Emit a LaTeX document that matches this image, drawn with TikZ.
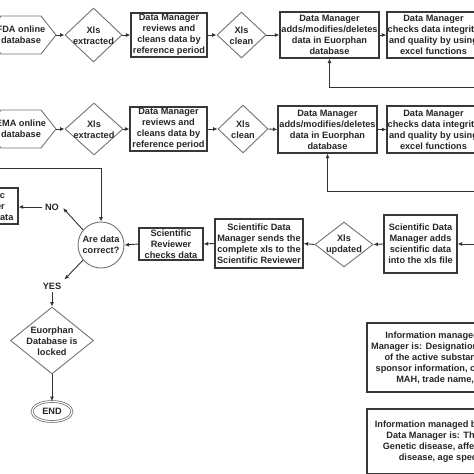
\documentclass[tikz,border=0pt]{standalone}
\usepackage{fontspec}
\setmainfont{Liberation Sans}
\usetikzlibrary{shapes.geometric,arrows.meta,calc}
\begin{document}
\begin{tikzpicture}[x=1pt,y=-1pt,
  txt/.style={font=\bfseries\fontsize{9.2}{11}\selectfont, text=black!85, align=center, inner sep=0pt},
  proc/.style={txt, draw=black!78, line width=1.2pt},
  dia/.style={diamond, draw=black!55, line width=0.9pt, inner sep=0pt},
  hexline/.style={draw=black!55, line width=0.9pt},
  arr/.style={draw=black!80, line width=0.9pt, -{Latex[length=4.5pt,width=4pt]}},
  lbl/.style={txt, inner sep=3pt}]
\useasboundingbox (0,0) rectangle (474,474);
\clip (0,0) rectangle (474,474);

% ---------- row 1 ----------
\node[txt] (hex1) at (21,35) {FDA online\\database};
\draw[hexline] (hex1.center) ++(-20,-19) -- ++(40,0) -- ++(15,19) -- ++(-15,19) -- ++(-40,0) -- ++(-15,-19) -- cycle;
\coordinate (hex1tip) at ($(hex1.center)+(35,0)$);
\node[dia, minimum width=57pt, minimum height=54pt] (d11) at (93.5,35) {};
\node[txt] (d11t) at (93.5,36) {Xls\\extracted};
\node[proc, minimum width=76pt, minimum height=44pt] (b11) at (169,35) {Data Manager\\reviews and\\cleans data by\\reference period};
\node[dia, minimum width=49pt, minimum height=46pt] (d12) at (241.5,35) {};
\node[txt] (d12t) at (241.5,36) {Xls\\clean};
\node[proc, minimum width=99pt, minimum height=46pt] (b12) at (329.5,35) {Data Manager\\adds/modifies/deletes\\data in Euorphan\\database};
\node[proc, minimum width=93pt, minimum height=46pt] (b13) at (433.5,35) {Data Manager\\checks data integrity\\and quality by using\\excel functions};
\coordinate (fb1) at (480,87);
\draw[arr] (hex1tip) -- (d11.west);
\draw[arr] (d11.east) -- (b11.west);
\draw[arr] (b11.east) -- (d12.west);
\draw[arr] (d12.east) -- (b12.west);
\draw[arr] (b12.east) -- (b13.west);
\draw[arr] (fb1) -| (b12.south);

% ---------- row 2 ----------
\node[txt] (hex2) at (21,129) {EMA online\\database};
\draw[hexline] (hex2.center) ++(-20,-19) -- ++(40,0) -- ++(15,19) -- ++(-15,19) -- ++(-40,0) -- ++(-15,-19) -- cycle;
\coordinate (hex2tip) at ($(hex2.center)+(35,0)$);
\node[dia, minimum width=58pt, minimum height=52pt] (d21) at (94,129) {};
\node[txt] (d21t) at (94,130) {Xls\\extracted};
\node[proc, minimum width=77pt, minimum height=44pt] (b21) at (168.5,129) {Data Manager\\reviews and\\cleans data by\\reference period};
\node[dia, minimum width=50pt, minimum height=48pt] (d22) at (243,129) {};
\node[txt] (d22t) at (243,130) {Xls\\clean};
\node[proc, minimum width=99pt, minimum height=47pt] (b22) at (327.5,129.5) {Data Manager\\adds/modifies/deletes\\data in Euorphan\\database};
\node[proc, minimum width=93pt, minimum height=47pt] (b23) at (433.5,129.5) {Data Manager\\checks data integrity\\and quality by using\\excel functions};
\coordinate (fb2) at (480,191);
\draw[arr] (hex2tip) -- (d21.west);
\draw[arr] (d21.east) -- (b21.west);
\draw[arr] (b21.east) -- (d22.west);
\draw[arr] (d22.east) -- (b22.west);
\draw[arr] (b22.east) -- (b23.west);
\draw[arr] (fb2) -| (b22.south);

% ---------- row 3 ----------
\node[proc, minimum width=73pt, minimum height=58pt] (adds) at (420.5,244) {Scientific Data\\Manager adds\\scientific data\\into the xls file};
\node[dia, minimum width=58pt, minimum height=45pt] (d3) at (344,244.5) {};
\node[txt] (d3t) at (344,245) {Xls\\updated};
\node[proc, minimum width=88pt, minimum height=49pt] (sends) at (259,243.5) {Scientific Data\\Manager sends the\\complete xls to the\\Scientific Reviewer};
\node[proc, minimum width=64pt, minimum height=32pt] (chk) at (171,244) {Scientific\\Reviewer\\checks data};
\node[txt, circle, draw=black!55, line width=0.9pt, minimum size=46pt] (circ) at (101,245) {Are data\\correct?};
\node[proc, minimum width=67pt, minimum height=36pt] (corr) at (-15.5,206) {Scientific\\Reviewer\\corrects data};
\node[lbl] (no) at (52,207) {NO};
\node[lbl] (yes) at (52,286) {YES};
\coordinate (rin) at (480,244);
\coordinate (lp) at (-5,168);
\draw[arr] (rin) -- (adds.east);
\draw[arr] (adds.west) -- (d3.east);
\draw[arr] (d3.west) -- (sends.east);
\draw[arr] (sends.west) -- (chk.east);
\draw[arr] (chk.west) -- (circ.east);
\draw[arr] (lp) -| (circ.north);
\draw[arr, shorten >=1.5pt] (circ.140) -- (no.east);
\draw[arr] (no.west) -- (no.west -| corr.east);
\draw[arr] (circ.220) -- (yes.north east);

% ---------- end column ----------
\node[dia, minimum width=83pt, minimum height=67pt] (lock) at (52,340.5) {};
\node[txt] (lockt) at (52,341) {Euorphan\\Database is\\locked};
\node[txt, ellipse, draw=black!60, line width=0.7pt, double=white, double distance=1.2pt, minimum width=40pt, minimum height=20pt] (endn) at (52,411.5) {END};
\draw[arr] (yes.south) -- (lock.north);
\draw[arr] (lock.south) -- (endn.north);

% ---------- info boxes ----------
\node[proc, minimum width=166pt, minimum height=69pt] (info1) at (450,357.5) {Information managed by Data\\Manager is: Designation date, name\\of the active substance, name\\sponsor information, orphan drug\\MAH, trade name, status};
\node[proc, minimum width=166pt, minimum height=65pt] (info2) at (450,441.5) {Information managed by Scientific\\Data Manager is: The orphan\\Genetic disease, affected area,\\disease, age specificity};
\end{tikzpicture}
\end{document}
